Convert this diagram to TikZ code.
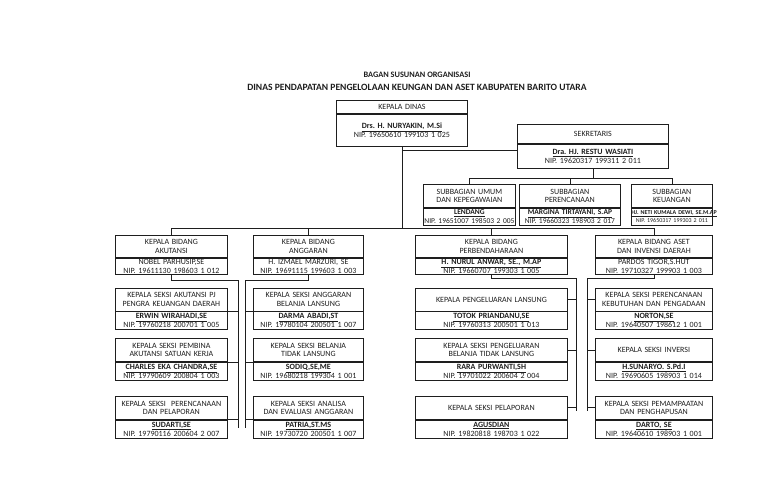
\documentclass[tikz,border=0pt]{standalone}
\usepackage{fontspec}
\setmainfont{Carlito}
\usetikzlibrary{
    positioning,    % For relative node placement (below=of, etc.)
    calc            % For coordinate calculations
}
\definecolor{scanblack}{RGB}{30, 30, 30}
\frenchspacing
% Lower line of a box: underlined official, then NIP
\newcommand{\official}[2]{\underline{\textbf{#1}}\\#2}

\begin{document}
\begin{tikzpicture}[
    x=1pt, y=-1pt, % One unit is one pixel of the scan, y runs downwards
    color=scanblack,
    % Styles
    head_box/.style={ % Upper part of a box: the post
        rectangle,
        draw,
        line width=0.8pt,
        text width=#1,
        inner xsep=0pt,
        inner ysep=0pt,
        minimum height=23pt,
        align=center,
        font=\fontsize{8}{8.4}\selectfont
    },
    person_box/.style={ % Lower part of a box: official and NIP
        rectangle,
        draw,
        line width=0.8pt,
        text width=#1,
        inner xsep=0pt,
        inner ysep=0pt,
        minimum height=18pt,
        align=center,
        font=\fontsize{8}{9}\selectfont
    },
    link/.style={ % Connector lines
        draw,
        line width=0.8pt
    },
    title_text/.style={ % Heading over the chart
        font=\bfseries,
        align=center
    }
]
\useasboundingbox (0,0) rectangle (768,501);
\fill[white] (0,0) rectangle (768,501);

% --- Heading ---
\node[title_text, font=\fontsize{8.3}{10}\selectfont\bfseries] (title) at (417,75) {BAGAN SUSUNAN ORGANISASI};
\node[title_text, font=\fontsize{9.6}{11}\selectfont\bfseries] (subtitle) at (417,87) {DINAS PENDAPATAN PENGELOLAAN KEUNGAN DAN ASET KABUPATEN BARITO UTARA};

% --- Kepala Dinas ---
\node[head_box=131pt, minimum height=13pt, anchor=north west] (kd) at (336,100) {KEPALA DINAS};
\node[person_box=131pt, minimum height=32pt, below=0pt of kd] (kd_p) {\official{Drs. H. NURYAKIN, M.Si}{NIP. 19650610 199103 1 025}};

% --- Sekretaris ---
\node[head_box=151pt, minimum height=19pt, anchor=north west] (sek) at (517,124) {SEKRETARIS};
\node[person_box=151pt, minimum height=24pt, below=0pt of sek] (sek_p) {\official{Dra. HJ. RESTU WASIATI}{NIP. 19620317 199311 2 011}};

% --- Subbagian ---
\node[head_box=92pt, anchor=north west] (sub_umum) at (423,184) {SUBBAGIAN UMUM\\DAN KEPEGAWAIAN};
\node[person_box=92pt, minimum height=17pt, font=\fontsize{7.5}{8.5}\selectfont, below=0pt of sub_umum] (sub_umum_p) {\official{LENDANG}{NIP. 19651007 198503 2 005}};
\node[head_box=101pt, anchor=north west] (sub_renc) at (519,184) {SUBBAGIAN\\PERENCANAAN};
\node[person_box=101pt, minimum height=17pt, font=\fontsize{7.5}{8.5}\selectfont, below=0pt of sub_renc] (sub_renc_p) {\official{MARGINA TIRTAYANI, S.AP}{NIP. 19660323 198903 2 017}};
\node[head_box=81pt, anchor=north west] (sub_keu) at (631,184) {SUBBAGIAN\\KEUANGAN};
\node[person_box=81pt, minimum height=17pt, font=\fontsize{6}{8.5}\selectfont, below=0pt of sub_keu] (sub_keu_p) {\official{HJ. NETI KUMALA DEWI, SE.M.AP}{NIP. 19650317 199303 2 011}};

% --- Column 1: Bidang Akutansi ---
\node[head_box=112pt, minimum height=22pt, anchor=north west] (akt) at (115,235) {KEPALA BIDANG\\AKUTANSI};
\node[person_box=112pt, minimum height=16pt, below=0pt of akt] (akt_p) {NOBEL PARHUSIP,SE\\NIP. 19611130 198603 1 012};
\node[head_box=112pt, below=13pt of akt_p] (akt1) {KEPALA SEKSI AKUTANSI PJ\\PENGRA KEUANGAN DAERAH};
\node[person_box=112pt, below=0pt of akt1] (akt1_p) {\official{ERWIN WIRAHADI,SE}{NIP. 19760218 200701 1 005}};
\node[head_box=112pt, below=8pt of akt1_p] (akt2) {KEPALA SEKSI PEMBINA\\AKUTANSI SATUAN KERJA};
\node[person_box=112pt, below=0pt of akt2] (akt2_p) {\official{CHARLES EKA CHANDRA,SE}{NIP. 19790609 200804 1 003}};
\node[head_box=112pt, below=15pt of akt2_p] (akt3) {KEPALA SEKSI \ PERENCANAAN\\DAN PELAPORAN};
\node[person_box=112pt, below=0pt of akt3] (akt3_p) {\official{SUDARTI,SE}{NIP. 19790116 200604 2 007}};

% --- Column 2: Bidang Anggaran ---
\node[head_box=110pt, minimum height=22pt, anchor=north west] (ang) at (253,235) {KEPALA BIDANG\\ANGGARAN};
\node[person_box=110pt, minimum height=16pt, below=0pt of ang] (ang_p) {H. IZMAEL MARZURI, SE\\NIP. 19691115 199603 1 003};
\node[head_box=110pt, below=13pt of ang_p] (ang1) {KEPALA SEKSI ANGGARAN\\BELANJA LANSUNG};
\node[person_box=110pt, below=0pt of ang1] (ang1_p) {\official{DARMA ABADI,ST}{NIP. 19780104 200501 1 007}};
\node[head_box=110pt, below=8pt of ang1_p] (ang2) {KEPALA SEKSI BELANJA\\TIDAK LANSUNG};
\node[person_box=110pt, below=0pt of ang2] (ang2_p) {\official{SODIQ,SE,ME}{NIP. 19680218 199304 1 001}};
\node[head_box=110pt, below=15pt of ang2_p] (ang3) {KEPALA SEKSI ANALISA\\DAN EVALUASI ANGGARAN};
\node[person_box=110pt, below=0pt of ang3] (ang3_p) {\official{PATRIA,ST.MS}{NIP. 19730720 200501 1 007}};

% --- Column 3: Bidang Perbendaharaan ---
\node[head_box=152pt, minimum height=22pt, anchor=north west] (bend) at (415,235) {KEPALA BIDANG\\PERBENDAHARAAN};
\node[person_box=152pt, minimum height=16pt, below=0pt of bend] (bend_p) {\official{H. NURUL ANWAR, SE., M.AP}{NIP. 19660707 199303 1 005}};
\node[head_box=152pt, below=13pt of bend_p] (bend1) {KEPALA PENGELUARAN LANSUNG};
\node[person_box=152pt, below=0pt of bend1] (bend1_p) {\official{TOTOK PRIANDANU,SE}{NIP. 19760313 200501 1 013}};
\node[head_box=152pt, below=8pt of bend1_p] (bend2) {KEPALA SEKSI PENGELUARAN\\BELANJA TIDAK LANSUNG};
\node[person_box=152pt, below=0pt of bend2] (bend2_p) {\official{RARA PURWANTI,SH}{NIP. 19701022 200604 2 004}};
\node[head_box=152pt, below=15pt of bend2_p] (bend3) {KEPALA SEKSI PELAPORAN};
\node[person_box=152pt, below=0pt of bend3] (bend3_p) {\official{AGUSDIAN}{NIP. 19820818 198703 1 022}};

% --- Column 4: Bidang Aset ---
\node[head_box=117pt, minimum height=22pt, anchor=north west] (aset) at (595,235) {KEPALA BIDANG ASET\\DAN INVENSI DAERAH};
\node[person_box=117pt, minimum height=16pt, below=0pt of aset] (aset_p) {PARDOS TIGOR,S.HUT\\NIP. 19710327 199903 1 003};
\node[head_box=117pt, below=13pt of aset_p] (aset1) {KEPALA SEKSI PERENCANAAN\\KEBUTUHAN DAN PENGADAAN};
\node[person_box=117pt, below=0pt of aset1] (aset1_p) {\official{NORTON,SE}{NIP. 19640507 198612 1 001}};
\node[head_box=117pt, below=8pt of aset1_p] (aset2) {KEPALA SEKSI INVERSI};
\node[person_box=117pt, below=0pt of aset2] (aset2_p) {\official{H.SUNARYO. S.Pd.I}{NIP. 19690605 198903 1 014}};
\node[head_box=117pt, below=15pt of aset2_p] (aset3) {KEPALA SEKSI PEMAMPAATAN\\DAN PENGHAPUSAN};
\node[person_box=117pt, below=0pt of aset3] (aset3_p) {\official{DARTO, SE}{NIP. 19640610 198903 1 001}};

% --- Connectors ---
\coordinate (sek_in) at (0,150);   % branch to Sekretaris
\coordinate (sub_bus) at (0,178);  % line over the Subbagian boxes
\coordinate (bus) at (0,228);      % line over the Kepala Bidang boxes
\coordinate (rail_akt) at (238,280);
\coordinate (rail_ang) at (245,280);
\coordinate (rail_bend) at (576,278);
\coordinate (rail_aset) at (587,278);

% Kepala Dinas down to the Bidang line, branch to Sekretaris
\draw[link] (kd_p.south) -- (kd_p.south |- bus);
\draw[link] (kd_p.south |- sek_in) -- (sek_p.west |- sek_in);
% Sekretaris to Subbagian
\draw[link] (sek_p.south) -- (sek_p.south |- sub_bus);
\draw[link] (sub_umum.north |- sub_bus) -- (sub_keu.north |- sub_bus);
\foreach \s in {sub_umum,sub_renc,sub_keu}
    \draw[link] (\s.north |- sub_bus) -- (\s.north);
% Bidang line
\draw[link] (akt.north |- bus) -- (aset.north |- bus);
\foreach \b in {akt,ang,bend,aset}
    \draw[link] (\b.north |- bus) -- (\b.north);
% Rails from each Bidang to its Seksi
\draw[link] (akt_p.south) |- (rail_akt) -- ++(0,148);
\draw[link] (ang_p.south) |- (rail_ang) -- ++(0,148);
\draw[link] (bend_p.south) |- (rail_bend) -- ++(0,133);
\draw[link] (aset_p.south) |- (rail_aset) -- ++(0,133);
\foreach \s in {akt1,akt2,akt3}
    \draw[link] (\s.south east) -- (\s.south east -| rail_akt);
\foreach \s in {ang1,ang2,ang3}
    \draw[link] (\s.south west) -- (\s.south west -| rail_ang);
\foreach \s in {bend1,bend2,bend3}
    \draw[link] (\s.east) -- (\s.east -| rail_bend);
\foreach \s in {aset1,aset2,aset3}
    \draw[link] (\s.west) -- (\s.west -| rail_aset);

\end{tikzpicture}
\end{document}
